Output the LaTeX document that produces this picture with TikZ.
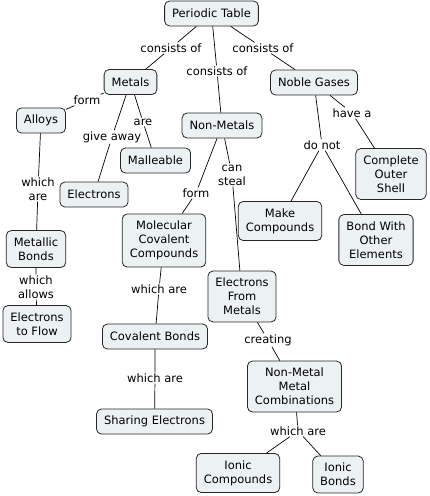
\documentclass[tikz,border=0pt]{standalone}
\usepackage{fontspec}
\setmainfont{DejaVu Sans}
\usepackage{tikz}
\usetikzlibrary{positioning}
\definecolor{boxfill}{RGB}{236,242,244}
\tikzset{>=stealth}

\begin{document}
\begin{tikzpicture}[x=1pt, y=-1pt,
    concept/.style={draw=black!85, fill=boxfill, rounded corners=5pt, line width=0.8pt,
        font=\fontsize{11.5}{14}\selectfont, align=center, inner xsep=7.5pt, inner ysep=7pt, minimum height=25pt},
    phrase/.style={font=\fontsize{11.5}{14}\selectfont, align=center, inner sep=1pt},
    link/.style={line width=0.7pt}]
    \useasboundingbox (0,0) rectangle (429,496);
    \node[concept] (table) at (211.5,13.5) {Periodic Table};
    \node[concept] (metals) at (130.5,82) {Metals};
    \node[concept] (noble) at (314,82.5) {Noble Gases};
    \node[concept] (nonmetals) at (222,125.5) {Non-Metals};
    \node[concept] (alloys) at (41,120.5) {Alloys};
    \node[concept] (malleable) at (155.5,160.5) {Malleable};
    \node[concept] (electrons) at (94,194.5) {Electrons};
    \node[concept] (shell) at (391,174) {Complete\\Outer\\Shell};
    \node[concept] (make) at (280,221) {Make\\Compounds};
    \node[concept] (bondwith) at (376,240) {Bond With\\Other\\Elements};
    \node[concept] (molecular) at (164,240.5) {Molecular\\Covalent\\Compounds};
    \node[concept] (metallic) at (36,249) {Metallic\\Bonds};
    \node[concept] (flow) at (37,324) {Electrons\\to Flow};
    \node[concept] (fromm) at (242,296.5) {Electrons\\From\\Metals};
    \node[concept] (covalent) at (155,336.5) {Covalent Bonds};
    \node[concept] (combos) at (294.5,386.5) {Non-Metal\\Metal\\Combinations};
    \node[concept] (sharing) at (154.5,421.5) {Sharing Electrons};
    \node[concept] (ioniccomp) at (238,473) {Ionic\\Compounds};
    \node[concept] (ionicbonds) at (338,474.5) {Ionic\\Bonds};

    \node[phrase] (p1) at (171,48) {consists of};
    \node[phrase] (p2) at (217,71) {consists of};
    \node[phrase] (p3) at (263,48) {consists of};
    \node[phrase] (p4) at (87,100) {form};
    \node[phrase] (p5) at (112,137) {give away};
    \node[phrase] (p6) at (143,122) {are};
    \node[phrase] (p7) at (38,189) {which\\are};
    \node[phrase] (p8) at (36,287) {which\\allows};
    \node[phrase] (p9) at (196,193) {form};
    \node[phrase] (p10) at (232,175) {can\\steal};
    \node[phrase] (p11) at (159,289) {which are};
    \node[phrase] (p12) at (155,378) {which are};
    \node[phrase] (p13) at (352,113) {have a};
    \node[phrase] (p14) at (322,145) {do not};
    \node[phrase] (p15) at (268,340) {creating};
    \node[phrase] (p16) at (298,431) {which are};

    \foreach \a/\b/\c in {table/p1/metals, table/p2/nonmetals, table/p3/noble,
        metals/p4/alloys, metals/p5/electrons, metals/p6/malleable,
        alloys/p7/metallic, metallic/p8/flow, nonmetals/p9/molecular,
        nonmetals/p10/fromm, molecular/p11/covalent, covalent/p12/sharing,
        noble/p13/shell, noble/p14/make, fromm/p15/combos, combos/p16/ioniccomp}
    {
        \draw[link] (\a) -- (\b) -- (\c);
    }
    \draw[link] (p14) -- (bondwith);
    \draw[link] (p16) -- (ionicbonds);
\end{tikzpicture}
\end{document}
